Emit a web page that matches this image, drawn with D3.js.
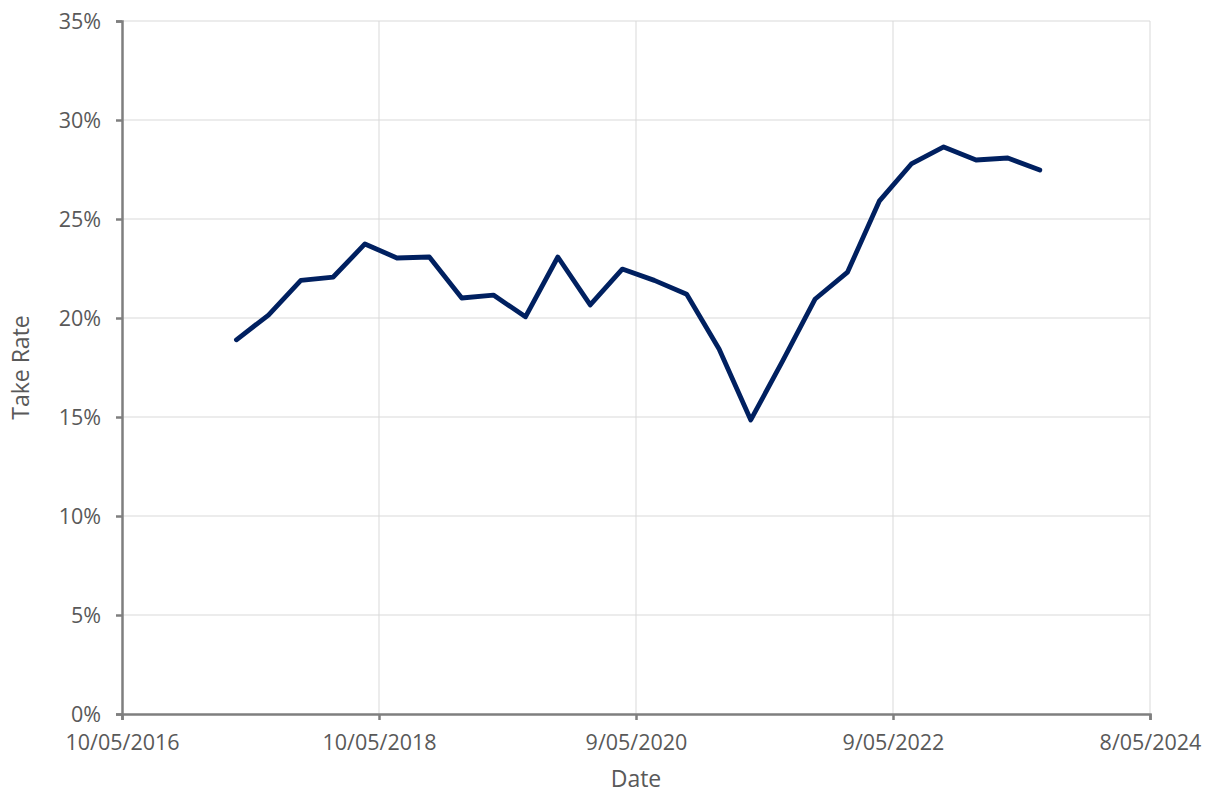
<!DOCTYPE html>
<html>
<head>
<meta charset="utf-8">
<script src="https://cdn.jsdelivr.net/npm/d3@7"></script>
<style>
  body { margin: 0; background: #fff; }
  text { font-family: "Open Sans", "Liberation Sans", sans-serif; fill: #595959; }
</style>
</head>
<body>
<script>
const dates = ['2017-03-31', '2017-06-30', '2017-09-30', '2017-12-31',
    '2018-03-31', '2018-06-30', '2018-09-30', '2018-12-31',
    '2019-03-31', '2019-06-30', '2019-09-30', '2019-12-31',
    '2020-03-31', '2020-06-30', '2020-09-30', '2020-12-31',
    '2021-03-31', '2021-06-30', '2021-09-30', '2021-12-31',
    '2022-03-31', '2022-06-30', '2022-09-30', '2022-12-31',
    '2023-03-31', '2023-06-30']
const takeRate = [0.189, 0.2015, 0.219, 0.2207, 0.2374, 0.2303, 0.2308, 0.2101,
    0.2116, 0.2006, 0.2308, 0.2066, 0.2247, 0.219, 0.212, 0.1843,
    0.1485, 0.1785, 0.2096, 0.2232, 0.259, 0.2778, 0.2864, 0.2798,
    0.2808, 0.2747]
const xTicks = ['2016-05-10', '2018-05-10', '2020-05-09', '2022-05-09', '2024-05-08']
const yTicks = [0, 0.05, 0.10, 0.15, 0.20, 0.25, 0.30, 0.35]

const m = { width: 1221, height: 798, left: 122, right: 1150, top: 21, bottom: 714 }

const parse = d3.timeParse('%Y-%m-%d')
const data = dates.map((d, i) => ({ date: parse(d), value: takeRate[i] }))

const svg = d3.select('body').append('svg')
    .attr('width', m.width)
    .attr('height', m.height)

const x = d3.scaleTime()
    .domain([parse(xTicks[0]), parse(xTicks[xTicks.length - 1])])
    .range([m.left, m.right])

const y = d3.scaleLinear()
    .domain([0, 0.35])
    .range([m.bottom, m.top])

// gridlines
svg.append('g')
    .selectAll('line.h')
    .data(yTicks.slice(1))
    .enter()
    .append('line')
        .attr('x1', m.left)
        .attr('x2', m.right)
        .attr('y1', d => y(d))
        .attr('y2', d => y(d))
        .attr('stroke', '#d9d9d9')
        .attr('stroke-width', 1)

svg.append('g')
    .selectAll('line.v')
    .data(xTicks.slice(1))
    .enter()
    .append('line')
        .attr('x1', d => x(parse(d)))
        .attr('x2', d => x(parse(d)))
        .attr('y1', m.top)
        .attr('y2', m.bottom)
        .attr('stroke', '#d9d9d9')
        .attr('stroke-width', 1)

// axes
const fmt = d3.timeFormat('%-d/%m/%Y')
const xAxis = svg.append('g')
    .attr('transform', `translate(0,${m.bottom})`)
    .call(d3.axisBottom(x)
        .tickValues(xTicks.map(parse))
        .tickFormat(fmt)
        .tickSize(6)
        .tickPadding(15))

const yAxis = svg.append('g')
    .attr('transform', `translate(${m.left},0)`)
    .call(d3.axisLeft(y)
        .tickValues(yTicks)
        .tickFormat(d3.format('.0%'))
        .tickSize(6)
        .tickPadding(15))

for (const a of [xAxis, yAxis]) {
    a.select('.domain').attr('stroke', '#7f7f7f').attr('stroke-width', 2.5)
    a.selectAll('.tick line').attr('stroke', '#7f7f7f').attr('stroke-width', 2.5)
    a.selectAll('.tick text').attr('font-size', 21.5).attr('fill', '#595959')
}
yAxis.selectAll('.tick text').attr('dy', '0.35em')

// line
svg.append('path')
    .datum(data)
    .attr('fill', 'none')
    .attr('stroke', '#002060')
    .attr('stroke-width', 4.8)
    .attr('stroke-linejoin', 'round')
    .attr('stroke-linecap', 'round')
    .attr('d', d3.line().x(d => x(d.date)).y(d => y(d.value)))

// axis titles
svg.append('text')
    .attr('x', (m.left + m.right) / 2)
    .attr('y', 787)
    .attr('text-anchor', 'middle')
    .attr('font-size', 23)
    .text('Date')

svg.append('text')
    .attr('transform', `translate(29,${(m.top + m.bottom) / 2}) rotate(-90)`)
    .attr('text-anchor', 'middle')
    .attr('font-size', 23)
    .text('Take Rate')
</script>
</body>
</html>
